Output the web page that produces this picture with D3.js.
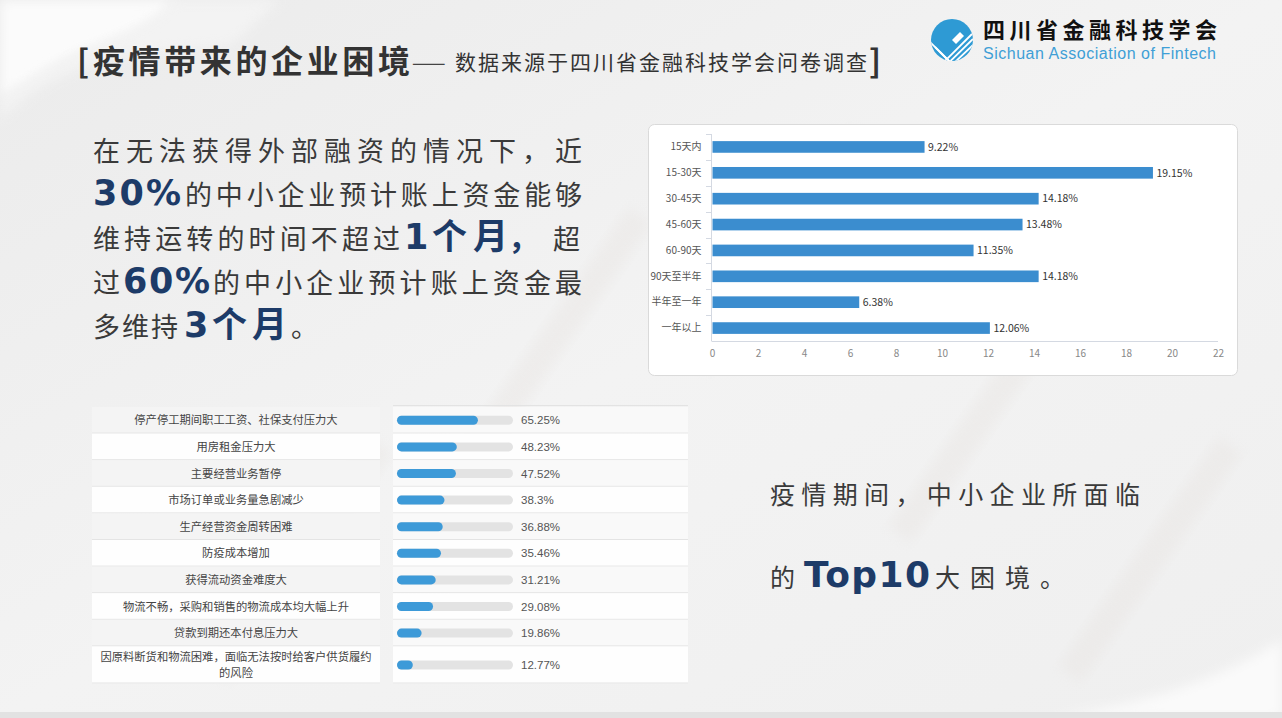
<!DOCTYPE html>
<html><head><meta charset="utf-8">
<script src="https://cdn.jsdelivr.net/npm/d3@7"></script>
<style>html,body{margin:0;padding:0;overflow:hidden;background:#efefef}svg{display:block}</style>
</head><body><svg id="c" width="1282" height="718"></svg>
<script>
// ---------------- data ----------------
const timeCategories = ["15天内","15-30天","30-45天","45-60天","60-90天","90天至半年","半年至一年","一年以上"];
const timeValues = [9.22, 19.15, 14.18, 13.48, 11.35, 14.18, 6.38, 12.06];
const timeTicks = [0, 2, 4, 6, 8, 10, 12, 14, 16, 18, 20, 22];

const issueCategories = [
  "停产停工期间职工工资、社保支付压力大",
  "用房租金压力大",
  "主要经营业务暂停",
  "市场订单或业务量急剧减少",
  "生产经营资金周转困难",
  "防疫成本增加",
  "获得流动资金难度大",
  "物流不畅，采购和销售的物流成本均大幅上升",
  "贷款到期还本付息压力大",
  "因原料断货和物流困难，面临无法按时给客户供货履约的风险"
];
const issueValues = [65.25, 48.23, 47.52, 38.3, 36.88, 35.46, 31.21, 29.08, 19.86, 12.77];
const issueLabels = ["65.25%","48.23%","47.52%","38.3%","36.88%","35.46%","31.21%","29.08%","19.86%","12.77%"];

const titleMain = "疫情带来的企业困境";
const titleSub = "数据来源于四川省金融科技学会问卷调查";
const orgName = "四川省金融科技学会";
const orgNameEn = "Sichuan Association of Fintech";

// ---------------- setup ----------------
const CJK = "'Noto Sans CJK SC','Noto Sans',sans-serif";
const LAT = "'Liberation Sans','DejaVu Sans',Arial,sans-serif";
const GEO = "'DejaVu Sans','Noto Sans CJK SC',sans-serif";
const svg = d3.select("#c");
const defs = svg.append("defs");

// background
const bg = defs.append("linearGradient").attr("id","bg").attr("x1",0).attr("y1",0).attr("x2",1).attr("y2",1);
bg.append("stop").attr("offset",0).attr("stop-color","#ebebeb");
bg.append("stop").attr("offset",0.5).attr("stop-color","#f3f3f3");
bg.append("stop").attr("offset",1).attr("stop-color","#efefef");
svg.append("rect").attr("width",1282).attr("height",718).attr("fill","url(#bg)");
const blur = defs.append("filter").attr("id","soft").attr("x","-20%").attr("y","-20%").attr("width","140%").attr("height","140%");
blur.append("feGaussianBlur").attr("stdDeviation",6);
svg.append("path").attr("d","M0,0 L175,0 C150,30 110,40 75,55 C40,72 18,90 0,98 Z")
  .attr("fill","#fbfbfb").attr("filter","url(#soft)");
svg.append("path").attr("d","M0,120 C60,60 140,50 230,45 L280,0 L175,0 C150,30 110,40 75,55 C40,72 18,90 0,98 Z")
  .attr("fill","#f6f6f6").attr("opacity",0.7).attr("filter","url(#soft)");
svg.append("path").attr("d","M1282,640 C1200,690 1130,705 1050,718 L1282,718 Z").attr("fill","#fafafa").attr("filter","url(#soft)");
[[560,330],[780,250],[980,420],[300,560],[1150,560]].forEach(([sx,sy])=>{
  svg.append("rect").attr("x",-140).attr("y",-14).attr("width",280).attr("height",28)
    .attr("transform",`translate(${sx},${sy}) rotate(-55)`).attr("fill","#e6e2df").attr("opacity",0.35).attr("filter","url(#soft)");
});
svg.append("rect").attr("x",0).attr("y",712).attr("width",1282).attr("height",6).attr("fill","#e2e2e2");

// ---------------- text helper ----------------
function seg(g, txt, x0, x1, base, size, weight, color, family){
  const t = g.append("text").attr("x",x0).attr("y",base).attr("font-family",family||CJK).attr("font-size",size)
   .attr("font-weight",weight).attr("fill",color).text(txt);
  if (x1 != null) t.attr("textLength",x1-x0).attr("lengthAdjust","spacing");
  return t;
}
const T = svg.append("g");
seg(T,"[",77,89,73,32,700,"#333");
seg(T,titleMain,93,410,73,32,700,"#333");
seg(T,"——",412,452,70,20,400,"#444");
seg(T,titleSub,455,867,70,21,400,"#333");
seg(T,"]",869,884,73,32,700,"#333");

// logo
const L = svg.append("g");
const cp = defs.append("clipPath").attr("id","logoClip");
cp.append("circle").attr("cx",952).attr("cy",40).attr("r",21);
L.append("circle").attr("cx",952).attr("cy",40).attr("r",21).attr("fill","#2e9ad4");
const lg = L.append("g").attr("clip-path","url(#logoClip)").attr("stroke","#fff").attr("stroke-width",1.8);
[-8,-3,2].forEach(o=>lg.append("line").attr("x1",930+o).attr("y1",30-o).attr("x2",950+o).attr("y2",10-o));
[-6,-1,4].forEach(o=>lg.append("line").attr("x1",936+o).attr("y1",48+o).attr("x2",956+o).attr("y2",68+o));
[0,5,10].forEach(o=>lg.append("line").attr("x1",944+o).attr("y1",62+o*0.1).attr("x2",972+o*0.2).attr("y2",34+o));
lg.append("path").attr("d","M952,40 l8,-8 l4,4 l-8,8 z").attr("fill","#fff").attr("stroke","none");
seg(L,orgName,983,1217,38,22,700,"#111");
seg(L,orgNameEn,983,1216,59,16,400,"#3f9fd6",LAT);

// ---------------- left text ----------------
const P = svg.append("g");
const N = "#3a3a3a", B = "#1d3b68";
seg(P,"在无法获得外部融资的情况下，近",93,582,161,27,400,N);
seg(P,"30%",93,181,205,35,700,B,GEO);
seg(P,"的中小企业预计账上资金能够",185,582,205,27,400,N);
seg(P,"维持运转的时间不超过",93,400,249,27,400,N);
seg(P,"1",404,null,249,35,700,B,GEO);
seg(P,"个月",432,508,249,35,700,B);
seg(P,"，",508,526,249,31,700,B);
seg(P,"超",553,582,249,27,400,N);
seg(P,"过",93,120,293,27,400,N);
seg(P,"60%",123,210,293,35,700,B,GEO);
seg(P,"的中小企业预计账上资金最",213,582,293,27,400,N);
seg(P,"多维持",93,178,337,27,400,N);
seg(P,"3",184,null,337,35,700,B,GEO);
seg(P,"个月",212,287,337,35,700,B);
seg(P,"。",291,310,337,27,400,N);

// right text
seg(P,"疫情期间，中小企业所面临",770,1140,504,25,400,N);
seg(P,"的",770,798,587,25,400,N);
seg(P,"Top10",804,930,587,36,700,B,GEO);
seg(P,"大困境。",935,1065,587,25,400,N);

// ---------------- top-right bar chart ----------------
const C = svg.append("g");
C.append("rect").attr("x",648.5).attr("y",124.5).attr("width",589).attr("height",251).attr("rx",6)
  .attr("fill","#fff").attr("stroke","#dadada");
const x = d3.scaleLinear().domain([0,22]).range([712,1218]);
const y = d3.scaleBand().domain(timeCategories).range([134,341]).paddingInner(0.55).paddingOuter(0.275);

C.append("line").attr("x1",x(0)).attr("x2",x(22)).attr("y1",341.5).attr("y2",341.5).attr("stroke","#d4d9e2");
C.append("line").attr("x1",711.5).attr("x2",711.5).attr("y1",134).attr("y2",341.5).attr("stroke","#d4d9e2");
const step = y.step();
timeCategories.forEach((c,i)=>{
  const yy = Math.round(y.range()[0] + i*step) + 0.5;
  C.append("line").attr("x1",706).attr("x2",711.5).attr("y1",yy).attr("y2",yy).attr("stroke","#d4d9e2");
});
const xa = C.append("g").attr("transform","translate(0,341.5)")
  .call(d3.axisBottom(x).tickValues(timeTicks).tickSize(0).tickPadding(8).tickFormat(d3.format("d")));
xa.select(".domain").remove();
xa.selectAll("text").attr("font-family",CJK).attr("font-size",10).attr("fill","#888");
const ya = C.append("g").attr("transform","translate(711.5,0)")
  .call(d3.axisLeft(y).tickSize(0).tickPadding(10));
ya.select(".domain").remove();
ya.selectAll("text").attr("font-family",CJK).attr("font-size",10).attr("fill","#555");

C.selectAll(".bar").data(timeValues).join("rect")
  .attr("x",x(0)+0.5).attr("y",(d,i)=>y(timeCategories[i]))
  .attr("width",d=>x(d)-x(0)).attr("height",y.bandwidth()).attr("fill","#3b8dcf");
C.selectAll(".vl").data(timeValues).join("text")
  .attr("x",d=>x(d)+4).attr("y",(d,i)=>y(timeCategories[i])+y.bandwidth()/2)
  .attr("dy","0.36em").attr("font-family",CJK).attr("font-size",10.5).attr("fill","#333")
  .text(d=>d.toFixed(2)+"%");

// ---------------- bottom-left table ----------------
const TB = svg.append("g");
const rowH = 26.6, lineH = 16, fs = 11.3;
const measure = TB.append("text").attr("font-family",CJK).attr("font-size",fs);
function wrap(s, maxW){
  const lines=[]; let cur="";
  for(const ch of s){
    measure.text(cur+ch);
    if(measure.node().getComputedTextLength()>maxW && cur){ lines.push(cur); cur=ch; } else cur+=ch;
  }
  if(cur) lines.push(cur);
  return lines;
}
const rows = issueCategories.map((c,i)=>({label:c, lines:wrap(c,278), v:issueValues[i], t:issueLabels[i]}));
measure.remove();
let yy = 407;
rows.forEach(r=>{ r.y = yy; r.h = rowH + (r.lines.length-1)*10.5; yy += r.h; });

const barX = d3.scaleLinear().domain([0,100]).range([0,124]);
const trackX = 397, trackW = 116, trackH = 9;
TB.append("line").attr("x1",393).attr("x2",688).attr("y1",405.5).attr("y2",405.5).attr("stroke","#e3e3e3");
rows.forEach((r,i)=>{
  const fill = i%2===0 ? "#f4f4f4" : "#ffffff";
  TB.append("rect").attr("x",92).attr("y",r.y).attr("width",288).attr("height",r.h).attr("fill",fill).attr("opacity",0.92);
  TB.append("rect").attr("x",393).attr("y",r.y).attr("width",295).attr("height",r.h).attr("fill",i%2===0?"#fafafa":"#ffffff").attr("opacity",0.92);
  TB.append("line").attr("x1",92).attr("x2",380).attr("y1",r.y+r.h-0.5).attr("y2",r.y+r.h-0.5).attr("stroke","#e4e4e4");
  TB.append("line").attr("x1",393).attr("x2",688).attr("y1",r.y+r.h-0.5).attr("y2",r.y+r.h-0.5).attr("stroke","#e4e4e4");
  const cy = r.y + r.h/2;
  const t = TB.append("text").attr("x",236).attr("text-anchor","middle").attr("font-family",CJK)
    .attr("font-size",fs).attr("fill","#444");
  r.lines.forEach((ln,k)=>{
    t.append("tspan").attr("x",236).attr("y",cy + (k-(r.lines.length-1)/2)*lineH).attr("dy","0.36em").text(ln);
  });
  TB.append("rect").attr("x",trackX).attr("y",cy-trackH/2).attr("width",trackW).attr("height",trackH)
    .attr("rx",trackH/2).attr("fill","#e3e3e3");
  TB.append("rect").attr("x",trackX).attr("y",cy-trackH/2).attr("width",Math.max(barX(r.v),trackH)).attr("height",trackH)
    .attr("rx",trackH/2).attr("fill","#3d9ad8");
  TB.append("text").attr("x",521).attr("y",cy).attr("dy","0.36em").attr("font-family",LAT)
    .attr("font-size",11.5).attr("fill","#555").text(r.t);
});
</script></body></html>
